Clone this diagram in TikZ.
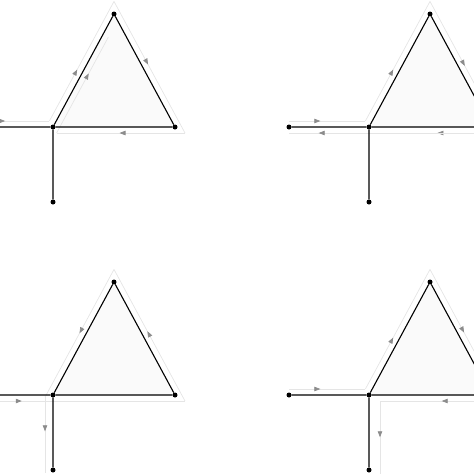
\documentclass[tikz,border=0pt]{standalone}
\usetikzlibrary{arrows.meta,decorations.markings}

\tikzset{
  dot/.style={circle,fill=black,inner sep=0pt,minimum size=5pt},
  edge/.style={line width=1.1pt,black},
  face/.style={fill=black!2},
  route/.style={draw=black!10,line width=0.7pt},
  tipat/.style={decoration={markings,
      mark=at position #1 with {\arrow{Triangle[width=4.5pt,length=6pt,color=black!45]}}},
    postaction=decorate},
}

\begin{document}
\begin{tikzpicture}[x=1pt,y=-1pt]
  \clip (0,0) rectangle (474,474);

  % faces and vertices
  \foreach \n/\px/\py in {1/53/127,2/369/127,3/53/395,4/369/395}{
    \begin{scope}[shift={(\px,\py)}]
      \fill[face] (0,0) -- (61,-113) -- (122,0) -- cycle;
      \node[dot] (j\n) at (0,0) {};
      \node[dot] (t\n) at (61,-113) {};
      \node[dot] (r\n) at (122,0) {};
      \node[dot] (b\n) at (0,75) {};
      \node[dot] (l\n) at (-80,0) {};
    \end{scope}
  }

  % routes
  \begin{scope}[shift={(j1)}]
    \coordinate (in1)  at (-80,-6);
    \coordinate (up1)  at (-3.6,-6);
    \coordinate (top1) at (61,-125.6);
    \coordinate (rt1)  at (132,6);
    \coordinate (ret1) at (3.6,6);
    \coordinate (end1) at (55.4,-90);
  \end{scope}
  \draw[route,tipat=0.42] (in1) -- (up1);
  \draw[route,tipat=0.43] (up1) -- (top1);
  \draw[route,tipat=0.48] (top1) -- (rt1);
  \draw[route,tipat=0.51] (rt1) -- (ret1);
  \draw[route,tipat=0.62] (ret1) -- (end1);

  \begin{scope}[shift={(j2)}]
    \coordinate (in2)  at (-80,-6);
    \coordinate (up2)  at (-3.6,-6);
    \coordinate (top2) at (61,-125.6);
    \coordinate (rt2)  at (132,6);
    \coordinate (out2) at (-80,6);
  \end{scope}
  \draw[route,tipat=0.41] (in2) -- (up2);
  \draw[route,tipat=0.43] (up2) -- (top2);
  \draw[route,tipat=0.49] (top2) -- (rt2);
  \draw[route,tipat=0.30] (rt2) -- (out2);
  \draw[route,tipat=0.86] (rt2) -- (out2);

  \begin{scope}[shift={(j3)}]
    \coordinate (in3)   at (-80,6);
    \coordinate (rt3)   at (132,6);
    \coordinate (top3)  at (61,-125.6);
    \coordinate (dn3)   at (-8,2.2);
    \coordinate (foot3) at (-8,78);
  \end{scope}
  \draw[route,tipat=0.23] (in3) -- (rt3);
  \draw[route,tipat=0.53] (rt3) -- (top3);
  \draw[route,tipat=0.50] (top3) -- (dn3);
  \draw[route,tipat=0.45] (dn3) -- (foot3);

  \begin{scope}[shift={(j4)}]
    \coordinate (in4)   at (-80,-6);
    \coordinate (up4)   at (-3.6,-6);
    \coordinate (top4)  at (61,-125.6);
    \coordinate (rt4)   at (132,6);
    \coordinate (ret4)  at (11,6);
    \coordinate (foot4) at (11,80);
  \end{scope}
  \draw[route,tipat=0.41] (in4) -- (up4);
  \draw[route,tipat=0.43] (up4) -- (top4);
  \draw[route,tipat=0.48] (top4) -- (rt4);
  \draw[route,tipat=0.49] (rt4) -- (ret4);
  \draw[route,tipat=0.49] (ret4) -- (foot4);

  % edges
  \foreach \n in {1,...,4}
    \draw[edge] (l\n) -- (j\n) -- (t\n) -- (r\n) -- (j\n) -- (b\n);
\end{tikzpicture}
\end{document}
